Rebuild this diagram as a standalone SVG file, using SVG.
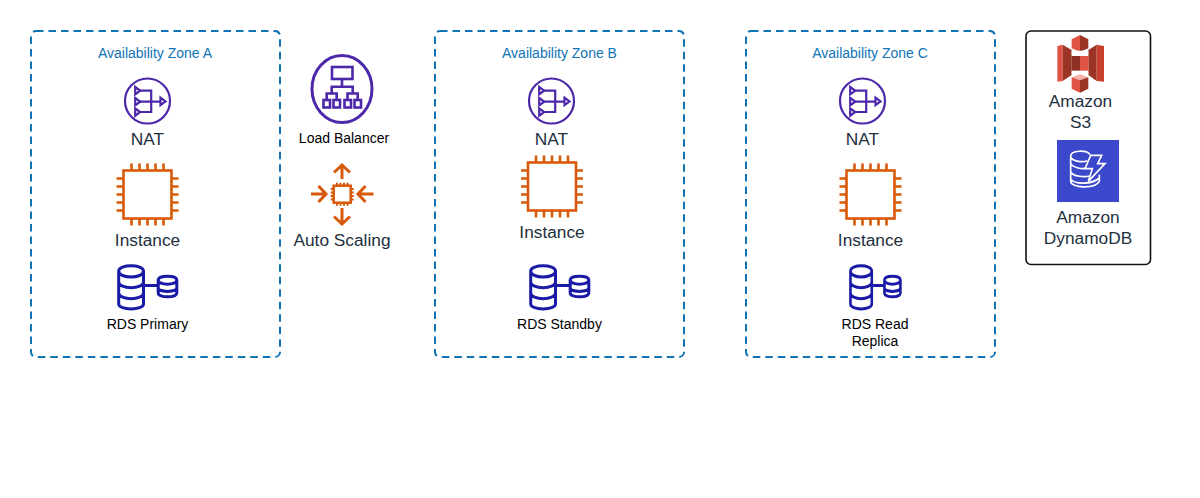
<svg xmlns="http://www.w3.org/2000/svg" width="1200" height="498" viewBox="0 0 1200 498">
<style>
text{font-family:"Liberation Sans",Arial,sans-serif;text-anchor:middle}
.az{fill:#0f73b5;font-size:14px}
.lb{fill:#232f3e;font-size:17.3px}
.sm{fill:#000;font-size:14px}
.zone{fill:#fff;stroke:#0f73b5;stroke-width:2;stroke-dasharray:7.5 5}
.p{fill:none;stroke:#4d27aa;stroke-width:2.2}
.o{fill:none;stroke:#d9590b;stroke-width:2.6}
.b{fill:none;stroke:#1a1aa6;stroke-width:3}
</style>
<defs>
<g id="nat" class="p">
<circle cx="0" cy="0" r="22.5"/>
<path d="M-7.500-10.300H3.700V11H-7.500M-7.500 .7H13"/>
<path d="M-12.300-14-7.300-10.300-12.300-6.600ZM-12.300-3-7.300 .7-12.300 4.400ZM-12.300 7.300-7.300 11-12.300 14.700ZM13-3.300 18 .4 13 4.100Z"/>
</g>
<g id="chip" class="o">
<rect x="-24" y="-24" width="48" height="48"/>
<path d="M-16-24v-7M-8-24v-7M0-24v-7M8-24v-7M16-24v-7M-16 24v7M-8 24v7M0 24v7M8 24v7M16 24v7M-24-16h-7M-24-8h-7M-24 0h-7M-24 8h-7M-24 16h-7M24-16h7M24-8h7M24 0h7M24 8h7M24 16h7"/>
</g>
<g id="rds" class="b">
<path d="M1.700 6C1.700-1 26.500-1 26.500 6V39C26.500 45.500 1.700 45.500 1.700 39ZM1.700 6C1.700 14 26.500 14 26.500 6M1.700 17C1.700 24.500 26.500 24.500 26.500 17M1.700 28C1.700 35.500 26.500 35.500 26.500 28"/>
<path d="M26.500 20.500H41.200"/>
<path d="M41.200 15C41.200 10 59.800 10 59.800 15V28C59.800 33 41.200 33 41.200 28ZM41.200 15C41.200 20.500 59.800 20.500 59.800 15M41.200 23C41.200 27.500 59.800 27.500 59.800 23"/>
</g>
</defs>
<g id="zone-a"><rect class="zone" x="31" y="31" width="249" height="326" rx="5"/><text class="az" x="155" y="58">Availability Zone A</text></g>
<g id="zone-b"><rect class="zone" x="435" y="31" width="249" height="326" rx="5"/><text class="az" x="559.500" y="58">Availability Zone B</text></g>
<g id="zone-c"><rect class="zone" x="746" y="31" width="249" height="326" rx="5"/><text class="az" x="870" y="58">Availability Zone C</text></g>
<g id="services"><rect x="1026" y="31" width="124.500" height="233.500" rx="5" fill="#fff" stroke="#111" stroke-width="1.600"/></g>
<g id="connectors"></g>
<g id="nat-a"><use href="#nat" x="147.500" y="101"/><text class="lb" x="147.500" y="145">NAT</text></g>
<g id="instance-a"><use href="#chip" x="147.500" y="194.500"/><text class="lb" x="147.500" y="246">Instance</text></g>
<g id="rds-a"><use href="#rds" x="117" y="265"/><text class="sm" x="147.500" y="329">RDS Primary</text></g>
<g id="nat-b"><use href="#nat" x="551.500" y="101"/><text class="lb" x="551.500" y="145">NAT</text></g>
<g id="instance-b"><use href="#chip" x="552" y="186.500"/><text class="lb" x="552" y="238">Instance</text></g>
<g id="rds-b"><use href="#rds" x="529" y="265"/><text class="sm" x="559.500" y="329">RDS Standby</text></g>
<g id="nat-c"><use href="#nat" x="862.500" y="101"/><text class="lb" x="862.500" y="145">NAT</text></g>
<g id="instance-c"><use href="#chip" x="870.500" y="194.500"/><text class="lb" x="870.500" y="246">Instance</text></g>
<g id="rds-c"><use href="#rds" transform="translate(849 265) scale(.86 1)"/><text class="sm" x="875" y="329">RDS Read</text><text class="sm" x="875" y="346">Replica</text></g>
<g id="load-balancer">
<ellipse cx="342" cy="89" rx="30" ry="33.500" fill="none" stroke="#4d27aa" stroke-width="3"/>
<g fill="none" stroke="#4d27aa" stroke-width="2.600">
<rect x="332" y="67" width="20.500" height="12"/>
<path d="M342 79V86.700M331.700 93.500V86.700H352.700V93.500M326.700 100V93.500H336.700V100M347.500 100V93.500H357.700V100"/>
<rect x="323.500" y="100" width="6.500" height="7.500"/><rect x="333.500" y="100" width="6.500" height="7.500"/><rect x="344.500" y="100" width="6.500" height="7.500"/><rect x="354.500" y="100" width="6.500" height="7.500"/>
</g>
<text class="sm" x="344" y="143">Load Balancer</text>
</g>
<g id="auto-scaling">
<g fill="none" stroke="#d9590b">
<rect x="333.700" y="185.700" width="17" height="17" stroke-width="2.500"/>
<path stroke-width="2" d="M337 185.700v-3M340.500 185.700v-3M344 185.700v-3M347.500 185.700v-3M337 202.700v3M340.500 202.700v3M344 202.700v3M347.500 202.700v3M333.700 189h-3M333.700 192.500h-3M333.700 196h-3M333.700 199.500h-3M350.700 189h3M350.700 192.500h3M350.700 196h3M350.700 199.500h3"/>
<path stroke-width="3" d="M342 165V179M334 172.500 342 165 350 172.500M342 208V224M334 216.500 342 224 350 216.500M311 194H326M318.500 186 326 194 318.500 202M373.500 194H358M365.500 186 358 194 365.500 202"/>
</g>
<text class="lb" x="342" y="246">Auto Scaling</text>
</g>
<g id="s3">
<g transform="translate(1050 30) scale(.3333)">
<path fill="#e05243" d="M22 48 38 44V153L22 155Z"/>
<path fill="#9a3526" d="M38 44 65 60V135L38 153Z"/>
<path fill="#9a3526" d="M115 60 140 44V153L115 135Z"/>
<path fill="#c8402f" d="M140 44 162 48V155L140 153Z"/>
<path fill="#e05243" d="M65 28 90 15V65L65 55Z"/>
<path fill="#9a3526" d="M90 15 115 28V55L90 65Z"/>
<path fill="#fff" d="M65 62H115V76H65ZM65 124H115V134H65Z"/>
<path fill="#8c3123" d="M65 78H90V122H65Z"/>
<path fill="#e05243" d="M90 78H115V122H90Z"/>
<path fill="#f2b0a9" d="M65 142 90 133 115 142 90 151Z"/>
<path fill="#e05243" d="M65 142 90 151V188L65 176Z"/>
<path fill="#9a3526" d="M115 142 90 151V188L115 176Z"/>
</g>
<text class="lb" x="1080.500" y="107">Amazon</text><text class="lb" x="1080.500" y="128">S3</text>
</g>
<g id="dynamodb">
<rect x="1057" y="140" width="62" height="62" fill="#3b48cc"/>
<g transform="translate(1060 142) scale(.3333)" fill="none" stroke="#fff" stroke-width="5">
<path d="M90 38C80 22 32 25 32 42V118C32 138 105 142 118 118V98M32 42C32 58 68 62 82 56M32 65C40 78 68 82 78 78M32 90C40 104 75 106 88 102M32 112C45 128 95 128 118 108"/>
<path d="M92 40H125L113 65H135L85 118 97 80H75Z"/>
</g>
<text class="lb" x="1088" y="223">Amazon</text><text class="lb" x="1088" y="244">DynamoDB</text>
</g>
</svg>
